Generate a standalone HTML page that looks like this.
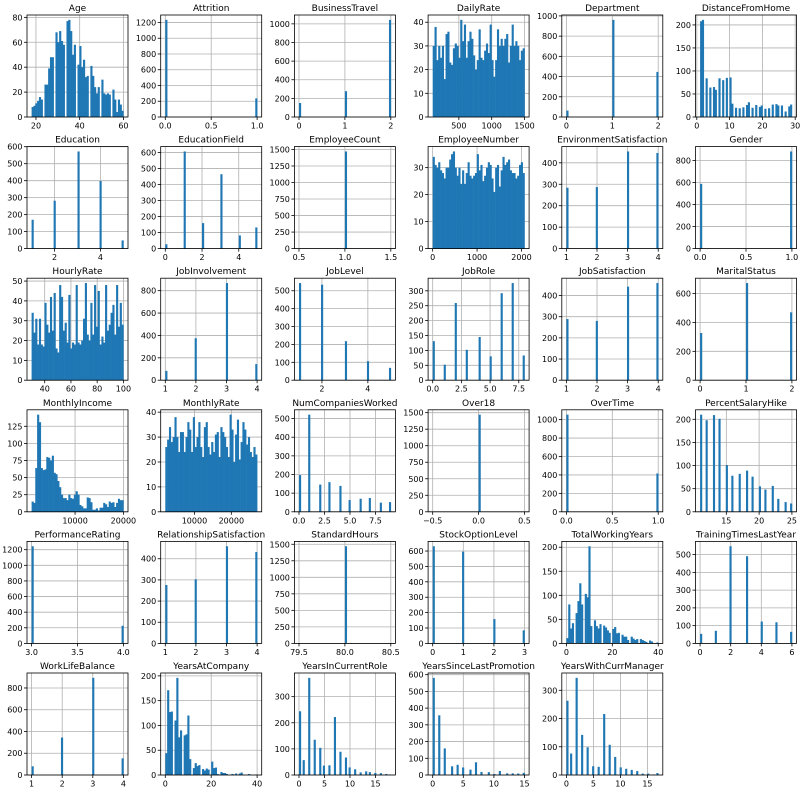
<!DOCTYPE html>
<html><head><meta charset="utf-8"><style>
html,body{margin:0;padding:0;background:#fff}
svg text{font-family:"DejaVu Sans","Liberation Sans",sans-serif}
</style></head><body>
<svg id="fig" width="800" height="792" viewBox="0 0 800 792" xmlns="http://www.w3.org/2000/svg"></svg>
<script>
// ---- data (discrete values + counts, or continuous 50-bin counts) ----
const ageValues=[18,19,20,21,22,23,24,25,26,27,28,29,30,31,32,33,34,35,36,37,38,39,40,41,42,43,44,45,46,47,48,49,50,51,52,53,54,55,56,57,58,59,60];
const ageCounts=[8,9,11,13,16,14,26,26,39,48,48,68,60,69,61,58,77,78,69,50,58,42,57,40,46,32,33,41,33,24,19,24,30,19,18,19,18,22,14,4,14,10,5];
const attritionValues=[0,1];
const attritionCounts=[1233,237];
const travelValues=[0,1,2];
const travelCounts=[150,277,1043];
const dailyRateCounts=[30,38,24,30,25,30,16,35,36,23,22,29,31,30,25,41,32,39,25,32,36,33,26,20,24,37,25,24,28,31,27,39,24,17,24,37,30,33,30,33,35,23,30,39,30,32,30,24,28,29];
const deptValues=[0,1,2];
const deptCounts=[63,961,446];
const distValues=[1,2,3,4,5,6,7,8,9,10,11,12,13,14,15,16,17,18,19,20,21,22,23,24,25,26,27,28,29];
const distCounts=[208,211,84,64,65,59,84,80,85,86,29,20,19,21,26,32,20,26,22,25,18,19,27,28,25,25,12,23,27];
const eduValues=[1,2,3,4,5];
const eduCounts=[170,282,572,398,48];
const eduFieldValues=[0,1,2,3,4,5];
const eduFieldCounts=[27,606,159,464,82,132];
const empCountValues=[1];
const empCountCounts=[1470];
const empNumCounts=[34,31,30,32,29,28,26,30,30,33,35,36,30,27,30,24,29,24,28,32,27,26,27,28,35,29,31,25,27,30,32,31,26,21,30,31,23,29,34,31,32,33,29,28,28,26,27,31,32,28];
const envSatValues=[1,2,3,4];
const envSatCounts=[284,287,453,446];
const genderValues=[0,1];
const genderCounts=[588,882];
const hourlyCounts=[34,24,31,18,31,18,17,39,28,24,42,25,44,16,14,48,42,25,29,19,43,16,19,18,48,19,18,20,31,49,23,20,39,23,48,27,45,18,22,19,48,25,28,34,38,23,48,27,39,28];
const jobInvValues=[1,2,3,4];
const jobInvCounts=[83,375,868,144];
const jobLevelValues=[1,2,3,4,5];
const jobLevelCounts=[543,534,218,106,69];
const jobRoleValues=[0,1,2,3,4,5,6,7,8];
const jobRoleCounts=[131,52,259,102,145,80,292,326,83];
const jobSatValues=[1,2,3,4];
const jobSatCounts=[289,280,442,459];
const maritalValues=[0,1,2];
const maritalCounts=[327,673,470];
const incomeCounts=[15,13,64,142,131,64,61,62,80,79,75,82,57,55,45,36,25,20,20,17,25,20,19,25,30,25,10,8,5,5,21,20,14,3,3,5,2,6,6,13,11,7,15,13,14,7,13,19,17,17];
const monthlyRateCounts=[26,29,34,28,30,38,30,24,32,32,24,30,36,33,24,38,26,30,36,26,22,34,36,26,23,28,24,31,32,22,34,32,30,26,22,39,33,20,31,37,21,28,36,33,27,30,24,22,26,23];
const numCompValues=[0,1,2,3,4,5,6,7,8,9];
const numCompCounts=[197,521,146,159,139,63,70,74,49,52];
const over18Values=[0];
const over18Counts=[1470];
const overTimeValues=[0,1];
const overTimeCounts=[1054,416];
const hikeValues=[11,12,13,14,15,16,17,18,19,20,21,22,23,24,25];
const hikeCounts=[210,198,209,201,101,78,82,89,76,55,48,56,28,21,18];
const perfValues=[3,4];
const perfCounts=[1244,226];
const relSatValues=[1,2,3,4];
const relSatCounts=[276,303,459,432];
const stdHoursValues=[80];
const stdHoursCounts=[1470];
const stockValues=[0,1,2,3];
const stockCounts=[631,596,158,85];
const twyValues=[0,1,2,3,4,5,6,7,8,9,10,11,12,13,14,15,16,17,18,19,20,21,22,23,24,25,26,27,28,29,30,31,32,33,34,35,36,37,38,40];
const twyCounts=[11,81,31,42,63,88,125,81,103,96,202,36,48,36,31,40,37,33,27,22,30,34,21,22,18,14,14,7,14,10,7,9,9,7,5,3,6,4,1,2];
const trainValues=[0,1,2,3,4,5,6];
const trainCounts=[54,71,547,491,123,119,65];
const wlbValues=[1,2,3,4];
const wlbCounts=[80,344,893,153];
const yacValues=[0,1,2,3,4,5,6,7,8,9,10,11,12,13,14,15,16,17,18,19,20,21,22,23,24,25,26,27,29,30,31,32,33,34,36,37,40];
const yacCounts=[44,171,127,128,110,196,76,90,80,82,120,32,14,24,18,20,12,9,13,11,27,14,15,2,6,4,4,2,2,1,3,3,5,1,2,1,1];
const yicrValues=[0,1,2,3,4,5,6,7,8,9,10,11,12,13,14,15,16,17,18];
const yicrCounts=[244,57,372,135,104,36,37,222,89,67,29,22,10,14,11,8,7,4,2];
const yslpValues=[0,1,2,3,4,5,6,7,8,9,10,11,12,13,14,15];
const yslpCounts=[581,357,159,52,61,45,32,76,18,17,6,24,10,10,9,13];
const ywcmValues=[0,1,2,3,4,5,6,7,8,9,10,11,12,13,14,15,16,17];
const ywcmCounts=[263,76,344,142,98,31,29,216,107,64,27,22,18,14,5,5,2,7];

const charts=[
 {t:'Age',v:ageValues,c:ageCounts,xt:[20,40,60],xd:0,yt:[0,20,40,60,80]},
 {t:'Attrition',v:attritionValues,c:attritionCounts,xt:[0,0.5,1],xd:1,yt:[0,200,400,600,800,1000,1200]},
 {t:'BusinessTravel',v:travelValues,c:travelCounts,xt:[0,1,2],xd:0,yt:[0,200,400,600,800,1000]},
 {t:'DailyRate',lo:102,hi:1499,c:dailyRateCounts,xt:[500,1000,1500],xd:0,yt:[0,10,20,30,40]},
 {t:'Department',v:deptValues,c:deptCounts,xt:[0,1,2],xd:0,yt:[0,200,400,600,800,1000]},
 {t:'DistanceFromHome',v:distValues,c:distCounts,xt:[0,10,20,30],xd:0,yt:[0,50,100,150,200]},
 {t:'Education',v:eduValues,c:eduCounts,xt:[2,4],xd:0,yt:[0,100,200,300,400,500,600]},
 {t:'EducationField',v:eduFieldValues,c:eduFieldCounts,xt:[0,2,4],xd:0,yt:[0,100,200,300,400,500,600]},
 {t:'EmployeeCount',v:empCountValues,c:empCountCounts,xt:[0.5,1,1.5],xd:1,yt:[0,250,500,750,1000,1250,1500]},
 {t:'EmployeeNumber',lo:1,hi:2068,c:empNumCounts,xt:[0,1000,2000],xd:0,yt:[0,10,20,30]},
 {t:'EnvironmentSatisfaction',v:envSatValues,c:envSatCounts,xt:[1,2,3,4],xd:0,yt:[0,100,200,300,400]},
 {t:'Gender',v:genderValues,c:genderCounts,xt:[0,0.5,1],xd:1,yt:[0,200,400,600,800]},
 {t:'HourlyRate',lo:30,hi:100,c:hourlyCounts,xt:[40,60,80,100],xd:0,yt:[0,10,20,30,40,50]},
 {t:'JobInvolvement',v:jobInvValues,c:jobInvCounts,xt:[1,2,3,4],xd:0,yt:[0,200,400,600,800]},
 {t:'JobLevel',v:jobLevelValues,c:jobLevelCounts,xt:[2,4],xd:0,yt:[0,100,200,300,400,500]},
 {t:'JobRole',v:jobRoleValues,c:jobRoleCounts,xt:[0,2.5,5,7.5],xd:1,yt:[0,50,100,150,200,250,300]},
 {t:'JobSatisfaction',v:jobSatValues,c:jobSatCounts,xt:[1,2,3,4],xd:0,yt:[0,100,200,300,400]},
 {t:'MaritalStatus',v:maritalValues,c:maritalCounts,xt:[0,1,2],xd:0,yt:[0,200,400,600]},
 {t:'MonthlyIncome',lo:1009,hi:19999,c:incomeCounts,xt:[10000,20000],xd:0,yt:[0,25,50,75,100,125]},
 {t:'MonthlyRate',lo:2094,hi:26999,c:monthlyRateCounts,xt:[10000,20000],xd:0,yt:[0,10,20,30,40]},
 {t:'NumCompaniesWorked',v:numCompValues,c:numCompCounts,xt:[0,2.5,5,7.5],xd:1,yt:[0,100,200,300,400,500]},
 {t:'Over18',v:over18Values,c:over18Counts,xt:[-0.5,0,0.5],xd:1,yt:[0,250,500,750,1000,1250,1500]},
 {t:'OverTime',v:overTimeValues,c:overTimeCounts,xt:[0,0.5,1],xd:1,yt:[0,200,400,600,800,1000]},
 {t:'PercentSalaryHike',v:hikeValues,c:hikeCounts,xt:[15,20,25],xd:0,yt:[0,50,100,150,200]},
 {t:'PerformanceRating',v:perfValues,c:perfCounts,xt:[3,3.5,4],xd:1,yt:[0,200,400,600,800,1000,1200]},
 {t:'RelationshipSatisfaction',v:relSatValues,c:relSatCounts,xt:[1,2,3,4],xd:0,yt:[0,100,200,300,400]},
 {t:'StandardHours',v:stdHoursValues,c:stdHoursCounts,xt:[79.5,80,80.5],xd:1,yt:[0,250,500,750,1000,1250,1500]},
 {t:'StockOptionLevel',v:stockValues,c:stockCounts,xt:[0,1,2,3],xd:0,yt:[0,100,200,300,400,500,600]},
 {t:'TotalWorkingYears',v:twyValues,c:twyCounts,xt:[0,20,40],xd:0,yt:[0,50,100,150,200]},
 {t:'TrainingTimesLastYear',v:trainValues,c:trainCounts,xt:[0,2,4,6],xd:0,yt:[0,100,200,300,400,500]},
 {t:'WorkLifeBalance',v:wlbValues,c:wlbCounts,xt:[1,2,3,4],xd:0,yt:[0,200,400,600,800]},
 {t:'YearsAtCompany',v:yacValues,c:yacCounts,xt:[0,20,40],xd:0,yt:[0,50,100,150,200]},
 {t:'YearsInCurrentRole',v:yicrValues,c:yicrCounts,xt:[0,5,10,15],xd:0,yt:[0,100,200,300]},
 {t:'YearsSinceLastPromotion',v:yslpValues,c:yslpCounts,xt:[0,5,10,15],xd:0,yt:[0,100,200,300,400,500,600]},
 {t:'YearsWithCurrManager',v:ywcmValues,c:ywcmCounts,xt:[0,5,10,15],xd:0,yt:[0,100,200,300]}
];

const NS='http://www.w3.org/2000/svg';
const fig=document.getElementById('fig');
function mk(tag,attrs,parent){const e=document.createElementNS(NS,tag);for(const k in attrs)e.setAttribute(k,attrs[k]);(parent||fig).appendChild(e);return e;}
const AX_W=101, AX_H=102, COL0=27, COLP=133.7, ROW0=15, ROWP=131.6, NB=50;
function slug(s){return s.replace(/([a-z0-9])([A-Z])/g,'$1-$2').toLowerCase();}

charts.forEach((ch,idx)=>{
  const col=idx%6,row=Math.floor(idx/6);
  const L=COL0+col*COLP, T=ROW0+row*ROWP, R=L+AX_W, B=T+AX_H;
  const g=mk('g',{});
  
  
  let lo,hi;
  if(ch.v){lo=Math.min(...ch.v);hi=Math.max(...ch.v);if(lo===hi){lo-=0.5;hi+=0.5;}}
  else{lo=ch.lo;hi=ch.hi;}
  const bw=(hi-lo)/NB;
  let bins=new Array(NB).fill(0);
  if(ch.v){ch.v.forEach((val,i)=>{let k=Math.floor((val-lo)/bw+1e-9);if(k>=NB)k=NB-1;if(k<0)k=0;bins[k]+=ch.c[i];});}
  else bins=ch.c.slice();
  const span=hi-lo, x0=lo-0.05*span, x1=hi+0.05*span;
  const ymax=Math.max(...bins)*1.05;
  const sx=x=>L+(x-x0)/(x1-x0)*AX_W;
  const sy=y=>B-y/ymax*AX_H;
  ch.xt.forEach(v=>{const x=sx(v);if(x<L-0.5||x>R+0.5)return;const ln=mk('line',{x1:x,x2:x,y1:T,y2:B,stroke:'#b0b0b0','stroke-width':0.8},g);
    
    });
  ch.yt.forEach(v=>{const y=sy(v);const ln=mk('line',{x1:L,x2:R,y1:y,y2:y,stroke:'#b0b0b0','stroke-width':0.8},g);
    
    });
  bins.forEach((c,k)=>{if(!c)return;const xa=sx(lo+k*bw),xb=sx(lo+(k+1)*bw);
    const r=mk('rect',{x:xa,y:sy(c),width:Math.max(xb-xa+0.3,0.9),height:B-sy(c),fill:'#1f77b4'},g);
    
    });
  const fr=mk('rect',{x:L,y:T,width:AX_W,height:AX_H,fill:'none',stroke:'#000','stroke-width':0.8},g);
  
  
  ch.xt.forEach(v=>{const x=sx(v);mk('line',{x1:x,x2:x,y1:B,y2:B+3,stroke:'#000','stroke-width':0.8},g);
    const tx=mk('text',{x:x,y:B+11.5,'font-size':8,'text-anchor':'middle',fill:'#000'},g);
    tx.textContent=(v<0?'\u2212':'')+Math.abs(v).toFixed(ch.xd);
    
    });
  ch.yt.forEach(v=>{const y=sy(v);mk('line',{x1:L-3,x2:L,y1:y,y2:y,stroke:'#000','stroke-width':0.8},g);
    const tx=mk('text',{x:L-4.5,y:y+3,'font-size':8,'text-anchor':'end',fill:'#000'},g);
    tx.textContent=String(v);
    
    });
  const tt=mk('text',{x:L+AX_W/2,y:T-4,'font-size':9,'text-anchor':'middle',fill:'#000'},g);
  tt.textContent=ch.t;
  
  
});
</script>
</body></html>
